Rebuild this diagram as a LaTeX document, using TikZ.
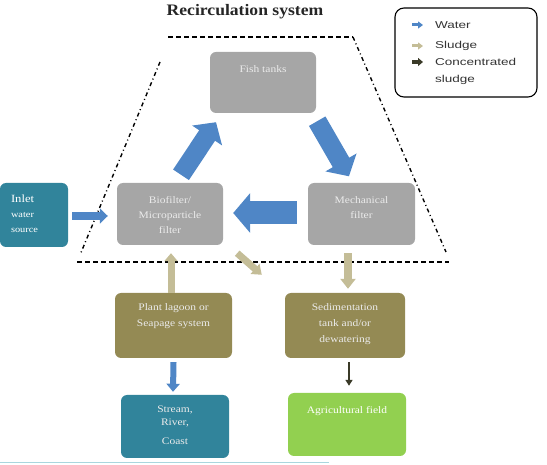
\documentclass[tikz,border=0pt]{standalone}
\usepackage{fontspec}
\setmainfont{Liberation Serif}
\newfontfamily\boxfont[FakeStretch=1.15]{Liberation Serif}
\newfontfamily\legfont[FakeStretch=1.35]{Liberation Sans}
\newfontfamily\titlefont[FakeStretch=1.1]{Liberation Serif}
\usetikzlibrary{arrows.meta,positioning}
\definecolor{boxgray}{HTML}{A6A6A6}
\definecolor{boxteal}{HTML}{31849B}
\definecolor{boxolive}{HTML}{948A54}
\definecolor{boxgreen}{HTML}{92D050}
\definecolor{flowblue}{HTML}{4F86C6}
\definecolor{flowsludge}{HTML}{C4BD97}
\definecolor{flowdark}{HTML}{3A3A28}
\definecolor{edgeteal}{HTML}{A9D6DE}
\begin{document}
\begin{tikzpicture}[x=1pt,y=-1pt,
  box/.style={rectangle, rounded corners=6pt, inner sep=0pt},
  txt/.style={inner sep=0pt, align=center, text=white!92!black, font=\boxfont\fontsize{10}{15}\selectfont},
  legtxt/.style={inner sep=0pt, anchor=west, text=black!80, font=\legfont\fontsize{10}{12}\selectfont},
  frame/.style={line width=1.6pt, dash pattern=on 5pt off 3pt},
  side/.style={line width=1.4pt, dash pattern=on 4pt off 3pt on 1pt off 3pt},
  flow/.style n args={3}{line width=#1, -{Triangle[width=#2,length=#3]}}]
\useasboundingbox (0,0) rectangle (547,465);
\node[font=\titlefont\bfseries\fontsize{16}{16}\selectfont, text=black!85] (title) at (245,12) {Recirculation system};
\coordinate (t1) at (168,37);
\coordinate (t2) at (353,37);
\coordinate (t3) at (446,252);
\coordinate (t4) at (160,62);
\coordinate (t5) at (80,255);
\coordinate (b1) at (77,262);
\coordinate (b2) at (449,262);
\draw[frame] (t1) -- (t2);
\draw[side] (t2) -- (t3);
\draw[side] (t4) -- (t5);
\draw[frame] (b1) -- (b2);
\node[box, fill=boxgray, minimum width=106pt, minimum height=61pt] (fish) at (263,82.5) {};
\node[txt, below=13.5pt of fish.north] (fishtxt) {Fish tanks};
\node[box, fill=boxgray, minimum width=106pt, minimum height=62pt] (bio) at (170,214) {};
\node[txt, below=13.5pt of bio.north] (biotxt) {Biofilter/\\Microparticle\\filter};
\node[box, fill=boxgray, minimum width=107pt, minimum height=62pt] (mech) at (361.5,214) {};
\node[txt, below=13.5pt of mech.north] (mechtxt) {Mechanical\\filter};
\node[box, fill=boxteal, minimum width=68pt, minimum height=64pt] (inlet) at (34,215) {};
\node[txt, align=left, text=white, font=\boxfont\fontsize{9}{15}\selectfont, below right=12pt and 11pt of inlet.north west] (inlettxt) {{\fontsize{11}{15}\selectfont Inlet}\\water\\source};
\node[box, fill=boxolive, minimum width=117pt, minimum height=65pt] (plant) at (173.5,325.5) {};
\node[txt, font=\boxfont\fontsize{10}{16}\selectfont, below=10.5pt of plant.north] (planttxt) {Plant lagoon or\\Seapage system};
\node[box, fill=boxolive, minimum width=120pt, minimum height=65pt] (sed) at (345,325.5) {};
\node[txt, font=\boxfont\fontsize{10}{16}\selectfont, below=10.5pt of sed.north] (sedtxt) {Sedimentation\\tank and/or\\dewatering};
\node[box, fill=boxteal, minimum width=108pt, minimum height=63pt] (stream) at (175,426.5) {};
\node[txt, font=\boxfont\fontsize{10}{13}\selectfont, below=10.5pt of stream.north] (streamtxt) {Stream,\\River,\\[6pt]Coast};
\node[box, fill=boxgreen, minimum width=118pt, minimum height=63pt] (agri) at (347,424.5) {};
\node[txt, text=white, below=13.5pt of agri.north] (agritxt) {Agricultural field};
\draw[flowblue, flow={19pt}{35pt}{16pt}] ([xshift=11pt,yshift=8pt]bio.north) -- ([xshift=-47pt,yshift=-9pt]fish.south);
\draw[flowblue, flow={19pt}{35pt}{16pt}] ([xshift=1pt,yshift=-8pt]fish.south east) -- ([xshift=-12.5pt,yshift=6.5pt]mech.north);
\draw[flowblue, flow={23pt}{39pt}{17pt}] ([xshift=-11pt,yshift=1pt]mech.west) -- ([xshift=10pt,yshift=1pt]bio.east);
\draw[flowblue, flow={8pt}{15pt}{8pt}] ([xshift=4pt,yshift=-1pt]inlet.east) -- ([xshift=-9pt,yshift=-2pt]bio.west);
\draw[flowsludge, flow={7pt}{13pt}{8pt}] ([xshift=-2.5pt]plant.north) -- ([xshift=1pt,yshift=-8pt]bio.south);
\draw[flowsludge, flow={7pt}{13pt}{9pt}] ([xshift=14pt,yshift=-8pt]bio.south east) -- ([xshift=-23pt,yshift=18pt]sed.north west);
\draw[flowsludge, flow={8pt}{15pt}{10pt}] ([xshift=-13.5pt,yshift=-8pt]mech.south) -- ([xshift=3pt,yshift=4pt]sed.north);
\draw[flowblue, flow={6pt}{13pt}{8pt}] ([yshift=-4pt]plant.south) -- ([xshift=-2pt,yshift=3pt]stream.north);
\draw[flowdark, flow={2.5pt}{7pt}{6pt}] ([xshift=4pt,yshift=-4pt]sed.south) -- ([xshift=2pt,yshift=7pt]agri.north);
\node[draw, line width=1.1pt, rounded corners=9pt, minimum width=142pt, minimum height=89pt] (legend) at (466,52.5) {};
\node[legtxt] (lwater) at (435,25) {Water};
\node[legtxt] (lsludge) at (435,46) {Sludge};
\node[legtxt] (lconc) at (435,62) {Concentrated};
\node[legtxt] (lconc2) at (435,80) {sludge};
\draw[flowblue, flow={3pt}{7pt}{5pt}] ([xshift=-23pt]lwater.west) -- ([xshift=-12pt]lwater.west);
\draw[flowsludge, flow={3pt}{7pt}{5pt}] ([xshift=-23pt]lsludge.west) -- ([xshift=-12pt]lsludge.west);
\draw[flowdark, flow={4pt}{8pt}{5pt}] ([xshift=-23pt]lconc.west) -- ([xshift=-12pt]lconc.west);
\coordinate (e1) at (0,462.5);
\coordinate (e2) at (329,462.5);
\draw[edgeteal, line width=1.5pt] (e1) -- (e2);
\end{tikzpicture}
\end{document}
